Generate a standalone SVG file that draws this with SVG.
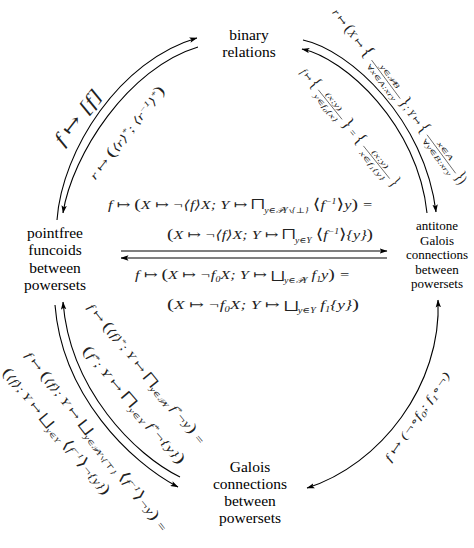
<svg xmlns="http://www.w3.org/2000/svg" width="474" height="548" viewBox="0 0 474 548" font-family="'Liberation Serif', 'DejaVu Serif', serif">
<style>
.n{font-family:'Liberation Serif','Times New Roman','DejaVu Serif',serif;font-size:15.5px;fill:#000;text-anchor:middle}
.n2{font-size:13px}
.m{font-family:'Liberation Serif','Times New Roman','DejaVu Serif',serif;font-size:11px;font-style:italic;fill:#222}
.cm{font-size:12.5px}
.s{font-size:7.5px}
.b{font-size:15px;font-style:normal}
.o{font-size:13px;font-style:normal}
.f{font-family:'Liberation Serif','Times New Roman','DejaVu Serif',serif;font-size:7px;font-style:italic;fill:#222;text-anchor:middle}
.c{fill:none;stroke:#000;stroke-width:1.1}
.fl{stroke:#222;stroke-width:0.6}
</style>
<defs>
<marker id="ah" viewBox="0 0 8 6" refX="7.5" refY="3" markerWidth="8" markerHeight="6" markerUnits="userSpaceOnUse" orient="auto-start-reverse"><path d="M0,0.3 L8,3 L0,5.7 L1.8,3 z" fill="#000"/></marker>
</defs>
<g id="connectors">
<path class="c" d="M57,220 C62,150 120,60 197,38" marker-end="url(#ah)"/>
<path class="c" d="M198,47 C128,68 72,155 63,213" marker-end="url(#ah)"/>
<path class="c" d="M303,40 C350,50 425,120 436,212" marker-end="url(#ah)"/>
<path class="c" d="M427,213 C418,125 345,58 302,49" marker-end="url(#ah)"/>
<path class="c" d="M121,251 L387,251" marker-end="url(#ah)"/>
<path class="c" d="M387,258 L121,258" marker-end="url(#ah)"/>
<path class="c" d="M55,305 C62,395 130,462 178,487" marker-end="url(#ah)"/>
<path class="c" d="M180,477 C135,455 70,390 63,302" marker-end="url(#ah)"/>
<path class="c" d="M438,300 C442,385 380,465 307,488" marker-start="url(#ah)" marker-end="url(#ah)"/>
</g>
<g id="node-binary">
<text class="n" font-family="Liberation Serif" x="249" y="40">binary</text>
<text class="n" font-family="Liberation Serif" x="249" y="57">relations</text>
</g>
<g id="node-pointfree">
<text class="n" x="55" y="238">pointfree</text>
<text class="n" x="55" y="255">funcoids</text>
<text class="n" x="55" y="273">between</text>
<text class="n" x="55" y="290">powersets</text>
</g>
<g id="node-antitone">
<text class="n n2" x="437" y="230">antitone</text>
<text class="n n2" x="437" y="244.5">Galois</text>
<text class="n n2" x="437" y="259">connections</text>
<text class="n n2" x="437" y="273.5">between</text>
<text class="n n2" x="437" y="288">powersets</text>
</g>
<g id="node-galois">
<text class="n" x="250" y="472">Galois</text>
<text class="n" x="250" y="489">connections</text>
<text class="n" x="250" y="506">between</text>
<text class="n" x="250" y="523">powersets</text>
</g>
<g id="labels">
<text class="m cm" x="108" y="209" textLength="265" lengthAdjust="spacingAndGlyphs">f ↦ <tspan class="b">(</tspan>X ↦ ¬⟨f⟩X; Y ↦ <tspan class="o">⨅</tspan><tspan class="s" dy="3.5">y∈𝒫Y∖{⊥}</tspan><tspan dy="-3.5"> </tspan><tspan class="b">⟨</tspan>f<tspan class="s" dy="-5">−1</tspan><tspan class="b" dy="5">⟩</tspan>y<tspan class="b">)</tspan> =</text>
<text class="m cm" x="167" y="239" textLength="206" lengthAdjust="spacingAndGlyphs"><tspan class="b">(</tspan>X ↦ ¬⟨f⟩X; Y ↦ <tspan class="o">⨅</tspan><tspan class="s" dy="3.5">y∈Y</tspan><tspan dy="-3.5"> </tspan><tspan class="b">⟨</tspan>f<tspan class="s" dy="-5">−1</tspan><tspan class="b" dy="5">⟩</tspan>{y}<tspan class="b">)</tspan></text>
<text class="m cm" x="135" y="279" textLength="215" lengthAdjust="spacingAndGlyphs">f ↦ <tspan class="b">(</tspan>X ↦ ¬f<tspan class="s" dy="3">0</tspan><tspan dy="-3">X; Y ↦ </tspan><tspan class="o">⨆</tspan><tspan class="s" dy="3.5">y∈𝒫Y</tspan><tspan dy="-3.5"> f</tspan><tspan class="s" dy="3">1</tspan><tspan dy="-3">y</tspan><tspan class="b">)</tspan> =</text>
<text class="m cm" x="167" y="309" textLength="192" lengthAdjust="spacingAndGlyphs"><tspan class="b">(</tspan>X ↦ ¬f<tspan class="s" dy="3">0</tspan><tspan dy="-3">X; Y ↦ </tspan><tspan class="o">⨆</tspan><tspan class="s" dy="3.5">y∈Y</tspan><tspan dy="-3.5"> f</tspan><tspan class="s" dy="3">1</tspan><tspan dy="-3">{y}</tspan><tspan class="b">)</tspan></text>
<g transform="translate(82.7,121.2) rotate(-51.9)"><text class="m" style="font-size:19px" x="0" y="0" text-anchor="middle" textLength="65" lengthAdjust="spacingAndGlyphs">f ↦ [f]</text></g>
<g transform="translate(130.2,135.5) rotate(-52.1)"><text class="m" x="0" y="0" text-anchor="middle" textLength="114" lengthAdjust="spacingAndGlyphs">r ↦ <tspan class="b">(</tspan>⟨r⟩<tspan class="s" dy="-4">*</tspan><tspan dy="4">; ⟨r</tspan><tspan class="s" dy="-4">−1</tspan><tspan dy="4">⟩</tspan><tspan class="s" dy="-4">*</tspan><tspan class="b" dy="4">)</tspan></text></g>
<g transform="translate(331.8,12.4) rotate(53.4)">
<text class="m" x="0" y="0" textLength="58" lengthAdjust="spacingAndGlyphs">r ↦ <tspan class="b">(</tspan>X ↦ <tspan class="b" style="font-size:18px">{</tspan></text>
<text class="f" x="86" y="-6" textLength="28" lengthAdjust="spacingAndGlyphs">y∈𝒫B</text>
<line class="fl" x1="62" y1="-3.5" x2="110" y2="-3.5"/>
<text class="f" x="86" y="4.5" textLength="44" lengthAdjust="spacingAndGlyphs">∀x∈A:xry</text>
<text class="m" x="112" y="0" textLength="40" lengthAdjust="spacingAndGlyphs"><tspan class="b" style="font-size:18px">}</tspan>; Y ↦ <tspan class="b" style="font-size:18px">{</tspan></text>
<text class="f" x="179" y="-6" textLength="22" lengthAdjust="spacingAndGlyphs">x∈A</text>
<line class="fl" x1="155" y1="-3.5" x2="203" y2="-3.5"/>
<text class="f" x="179" y="4.5" textLength="44" lengthAdjust="spacingAndGlyphs">∀y∈B:xry</text>
<text class="m" x="205" y="0" textLength="10" lengthAdjust="spacingAndGlyphs"><tspan class="b" style="font-size:18px">}</tspan><tspan class="b">)</tspan></text>
</g>
<g transform="translate(299.9,72.5) rotate(51.2)">
<text class="m" x="0" y="0" textLength="22" lengthAdjust="spacingAndGlyphs">f ↦ <tspan class="b" style="font-size:18px">{</tspan></text>
<text class="f" x="44" y="-6" textLength="22" lengthAdjust="spacingAndGlyphs">(x;y)</text>
<line class="fl" x1="25" y1="-3.5" x2="63" y2="-3.5"/>
<text class="f" x="44" y="4.5" textLength="34" lengthAdjust="spacingAndGlyphs">y∈f<tspan style="font-size:5px" dy="1.5">0</tspan><tspan dy="-1.5">{x}</tspan></text>
<text class="m" x="66" y="0" textLength="28" lengthAdjust="spacingAndGlyphs"><tspan class="b" style="font-size:18px">}</tspan> = <tspan class="b" style="font-size:18px">{</tspan></text>
<text class="f" x="118" y="-6" textLength="22" lengthAdjust="spacingAndGlyphs">(x;y)</text>
<line class="fl" x1="97" y1="-3.5" x2="139" y2="-3.5"/>
<text class="f" x="118" y="4.5" textLength="36" lengthAdjust="spacingAndGlyphs">x∈f<tspan style="font-size:5px" dy="1.5">1</tspan><tspan dy="-1.5">{y}</tspan></text>
<text class="m" x="142" y="0" textLength="6" lengthAdjust="spacingAndGlyphs"><tspan class="b" style="font-size:18px">}</tspan></text>
</g>
<g transform="translate(86.9,307.5) rotate(50.7)"><text class="m" x="0" y="0" textLength="178" lengthAdjust="spacingAndGlyphs">f ↦ <tspan class="b">(</tspan>⟨f⟩<tspan class="s" dy="-4">*</tspan><tspan dy="4">; Y ↦ </tspan><tspan class="o">⨅</tspan><tspan class="s" dy="3.5">y∈𝒫Y</tspan><tspan dy="-3.5"> f</tspan><tspan class="s" dy="-4">*</tspan><tspan dy="4">¬y</tspan><tspan class="b">)</tspan> =</text></g>
<g transform="translate(82,350.6) rotate(49.6)"><text class="m" x="0" y="0" textLength="150" lengthAdjust="spacingAndGlyphs"><tspan class="b">(</tspan>f<tspan class="s" dy="-4">*</tspan><tspan dy="4">; Y ↦ </tspan><tspan class="o">⨅</tspan><tspan class="s" dy="3.5">y∈Y</tspan><tspan dy="-3.5"> f</tspan><tspan class="s" dy="-4">*</tspan><tspan dy="4">¬{y}</tspan><tspan class="b">)</tspan></text></g>
<g transform="translate(24.8,355.4) rotate(52.3)"><text class="m" x="0" y="0" textLength="224" lengthAdjust="spacingAndGlyphs">f ↦ <tspan class="b">(</tspan>⟨f⟩; Y ↦ <tspan class="o">⨆</tspan><tspan class="s" dy="3.5">y∈𝒫Y∖{⊤}</tspan><tspan dy="-3.5"> </tspan><tspan class="b">⟨</tspan>f<tspan class="s" dy="-5">−1</tspan><tspan class="b" dy="5">⟩</tspan>¬y<tspan class="b">)</tspan> =</text></g>
<g transform="translate(1.9,372.6) rotate(50.3)"><text class="m" x="0" y="0" textLength="160" lengthAdjust="spacingAndGlyphs"><tspan class="b">(</tspan>⟨f⟩; Y ↦ <tspan class="o">⨆</tspan><tspan class="s" dy="3.5">y∈Y</tspan><tspan dy="-3.5"> </tspan><tspan class="b">⟨</tspan>f<tspan class="s" dy="-5">−1</tspan><tspan class="b" dy="5">⟩</tspan>¬{y}<tspan class="b">)</tspan></text></g>
<g transform="translate(420.3,418.8) rotate(-55.4)"><text class="m" x="0" y="0" text-anchor="middle" textLength="106" lengthAdjust="spacingAndGlyphs">f ↦ (¬∘f<tspan class="s" dy="3">0</tspan><tspan dy="-3">; f</tspan><tspan class="s" dy="3">1</tspan><tspan dy="-3">∘¬)</tspan></text></g>
</g>
</svg>
